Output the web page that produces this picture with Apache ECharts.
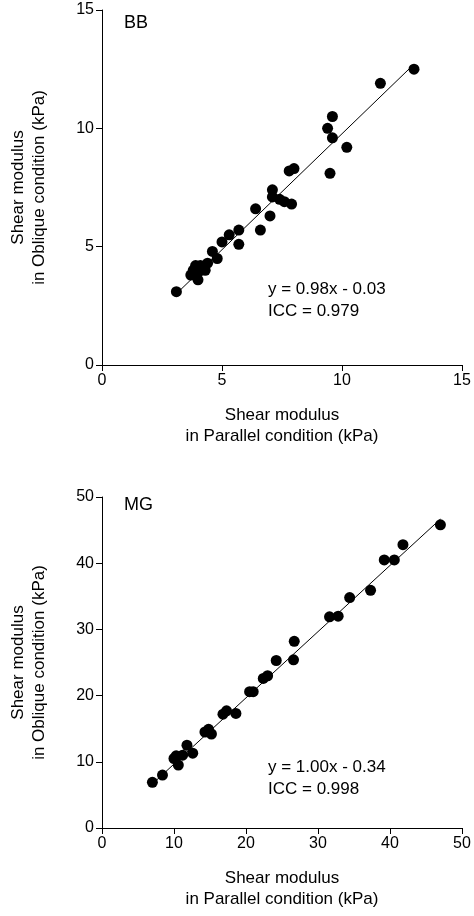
<!DOCTYPE html><html><head><meta charset="utf-8">
<script src="https://cdn.jsdelivr.net/npm/echarts@6/dist/echarts.min.js"></script>
<style>html,body{margin:0;background:#fff}#c{width:474px;height:916px}</style></head><body><div id="c"></div>
<script>
const bbPoints=[[3.1,3.1],[3.7,3.8],[3.8,4.0],[3.9,4.2],[4.0,3.6],[4.1,4.2],[4.0,3.9],[4.3,4.0],[4.4,4.3],[4.6,4.8],[4.8,4.5],[5.0,5.2],[5.3,5.5],[5.7,5.1],[5.7,5.7],[6.4,6.6],[6.6,5.7],[7.0,6.3],[7.1,7.4],[7.1,7.1],[7.4,7.0],[7.6,6.9],[7.8,8.2],[7.9,6.8],[8.0,8.3],[9.4,10.0],[9.5,8.1],[9.6,10.5],[9.6,9.6],[10.2,9.2],[11.6,11.9],[13.0,12.5],[4.2,4.1],[3.9,3.8]];
const bbFit=[[3.1,3.01],[13.0,12.71]];
const mgPoints=[[7,6.9],[8.4,8],[10,10.5],[10.3,10.9],[10.6,9.5],[11.2,11],[11.8,12.5],[12.6,11.3],[14.3,14.5],[14.8,14.9],[15.2,14.2],[16.8,17.2],[17.3,17.7],[18.6,17.3],[20.5,20.6],[21.0,20.6],[22.4,22.6],[23.0,23],[24.2,25.3],[26.7,28.2],[26.6,25.4],[31.6,31.9],[32.8,32],[34.4,34.8],[37.3,35.9],[39.2,40.5],[40.6,40.5],[41.8,42.8],[47,45.8]];
const mgFit=[[7,6.66],[47,46.66]];
const bbTicks={min:0,max:15,interval:5};
const mgTicks={min:0,max:50,interval:10};
const F='Liberation Sans, Arial, sans-serif';
const ax=(t,i,isY)=>({type:'value',gridIndex:i,min:t.min,max:t.max,interval:t.interval,
 name:isY?'Shear modulus\nin Oblique condition (kPa)':'Shear modulus\nin Parallel condition (kPa)',
 nameLocation:'middle',nameGap:isY?52:40,nameTextStyle:{fontFamily:F,fontSize:17,color:'#000',lineHeight:21},
 axisLine:{show:true,lineStyle:{color:'#000',width:1}},axisTick:{show:true,inside:false,length:6,lineStyle:{color:'#000'}},
 axisLabel:{fontFamily:F,fontSize:16,color:'#000',margin:8},splitLine:{show:false}});
const sc=(d,i)=>({type:'scatter',xAxisIndex:i,yAxisIndex:i,data:d,symbolSize:11,itemStyle:{color:'#000',opacity:1},z:3});
const ln=(d,i)=>({type:'line',xAxisIndex:i,yAxisIndex:i,data:d,symbol:'none',lineStyle:{color:'#000',width:1},z:2});
const chart=echarts.init(document.getElementById('c'));
chart.setOption({animation:false,
 grid:[{left:100,top:10,width:362,height:355},{left:100,top:497,width:362,height:331}],
 xAxis:[ax(bbTicks,0,false),ax(mgTicks,1,false)],
 yAxis:[ax(bbTicks,0,true),ax(mgTicks,1,true)],
 series:[sc(bbPoints,0),ln(bbFit,0),sc(mgPoints,1),ln(mgFit,1)],
 graphic:[
  {type:'text',left:124,top:14,style:{text:'BB',font:'18px '+F,fill:'#000'}},
  {type:'text',left:268,top:278,style:{text:'y = 0.98x - 0.03\nICC = 0.979',font:'17px '+F,fill:'#000',lineHeight:22}},
  {type:'text',left:124,top:496,style:{text:'MG',font:'18px '+F,fill:'#000'}},
  {type:'text',left:268,top:756,style:{text:'y = 1.00x - 0.34\nICC = 0.998',font:'17px '+F,fill:'#000',lineHeight:22}}
 ]});
</script></body></html>
